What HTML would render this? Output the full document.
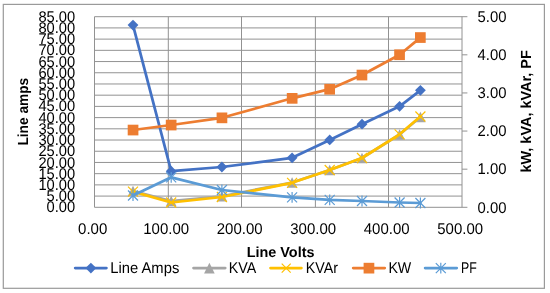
<!DOCTYPE html>
<html lang="en"><head><meta charset="utf-8"><title>Line Volts chart</title>
<style>html,body{margin:0;padding:0;background:#fff}body{width:550px;height:293px;overflow:hidden}svg{display:block;text-rendering:geometricPrecision}text{font-family:"Liberation Sans",sans-serif;fill:#000}</style></head><body>
<svg width="550" height="293" viewBox="0 0 550 293">
<rect width="550" height="293" fill="#fff"/>
<rect x="3.3" y="4.4" width="541.1" height="283.9" fill="none" stroke="#9a9a9a" stroke-width="1.2"/>
<path d="M94.5 16.70H462.0M94.5 27.91H462.0M94.5 39.12H462.0M94.5 50.34H462.0M94.5 61.55H462.0M94.5 72.76H462.0M94.5 83.97H462.0M94.5 95.18H462.0M94.5 106.39H462.0M94.5 117.61H462.0M94.5 128.82H462.0M94.5 140.03H462.0M94.5 151.24H462.0M94.5 162.45H462.0M94.5 173.66H462.0M94.5 184.88H462.0M94.5 196.09H462.0M94.5 207.30H462.0M94.50 16.7V207.3M168.30 16.7V207.3M241.50 16.7V207.3M315.40 16.7V207.3M388.50 16.7V207.3M462.00 16.7V207.3M462.0 16.70H467.4M462.0 54.82H467.4M462.0 92.94H467.4M462.0 131.06H467.4M462.0 169.18H467.4M462.0 207.30H467.4" stroke="#929292" stroke-width="1" fill="none"/>
<polyline points="133.0,25.1 171.2,171.2 221.9,167.0 292.1,157.8 329.7,139.9 362.0,124.2 399.6,106.3 420.4,90.3" fill="none" stroke="#4472C4" stroke-width="2.75" stroke-linejoin="round" stroke-linecap="round"/>
<path d="M133.0 19.7L138.4 25.1L133.0 30.5L127.6 25.1Z" fill="#4472C4"/>
<path d="M171.2 165.8L176.6 171.2L171.2 176.6L165.8 171.2Z" fill="#4472C4"/>
<path d="M221.9 161.6L227.3 167.0L221.9 172.4L216.5 167.0Z" fill="#4472C4"/>
<path d="M292.1 152.4L297.5 157.8L292.1 163.2L286.7 157.8Z" fill="#4472C4"/>
<path d="M329.7 134.5L335.1 139.9L329.7 145.3L324.3 139.9Z" fill="#4472C4"/>
<path d="M362.0 118.8L367.4 124.2L362.0 129.6L356.6 124.2Z" fill="#4472C4"/>
<path d="M399.6 100.9L405.0 106.3L399.6 111.7L394.2 106.3Z" fill="#4472C4"/>
<path d="M420.4 84.9L425.8 90.3L420.4 95.7L415.0 90.3Z" fill="#4472C4"/>
<polyline points="133.0,191.0 171.2,201.0 221.9,196.3 292.1,182.5 329.7,170.0 362.0,158.0 399.6,134.5 420.4,117.0" fill="none" stroke="#A5A5A5" stroke-width="2.75" stroke-linejoin="round" stroke-linecap="round"/>
<path d="M133.0 185.7L138.3 196.3L127.7 196.3Z" fill="#A5A5A5"/>
<path d="M171.2 195.7L176.5 206.3L165.9 206.3Z" fill="#A5A5A5"/>
<path d="M221.9 191.0L227.2 201.6L216.6 201.6Z" fill="#A5A5A5"/>
<path d="M292.1 177.2L297.4 187.8L286.8 187.8Z" fill="#A5A5A5"/>
<path d="M329.7 164.7L335.0 175.3L324.4 175.3Z" fill="#A5A5A5"/>
<path d="M362.0 152.7L367.3 163.3L356.7 163.3Z" fill="#A5A5A5"/>
<path d="M399.6 129.2L404.9 139.8L394.3 139.8Z" fill="#A5A5A5"/>
<path d="M420.4 111.7L425.7 122.3L415.1 122.3Z" fill="#A5A5A5"/>
<polyline points="133.0,191.6 171.2,202.5 221.9,197.0 292.1,182.8 329.7,170.0 362.0,158.0 399.6,134.3 420.4,116.5" fill="none" stroke="#FFC000" stroke-width="2.75" stroke-linejoin="round" stroke-linecap="round"/>
<path d="M128.0 186.6L138.0 196.6M128.0 196.6L138.0 186.6" stroke="#FFC000" stroke-width="1.2" fill="none"/>
<path d="M166.2 197.5L176.2 207.5M166.2 207.5L176.2 197.5" stroke="#FFC000" stroke-width="1.2" fill="none"/>
<path d="M216.9 192.0L226.9 202.0M216.9 202.0L226.9 192.0" stroke="#FFC000" stroke-width="1.2" fill="none"/>
<path d="M287.1 177.8L297.1 187.8M287.1 187.8L297.1 177.8" stroke="#FFC000" stroke-width="1.2" fill="none"/>
<path d="M324.7 165.0L334.7 175.0M324.7 175.0L334.7 165.0" stroke="#FFC000" stroke-width="1.2" fill="none"/>
<path d="M357.0 153.0L367.0 163.0M357.0 163.0L367.0 153.0" stroke="#FFC000" stroke-width="1.2" fill="none"/>
<path d="M394.6 129.3L404.6 139.3M394.6 139.3L404.6 129.3" stroke="#FFC000" stroke-width="1.2" fill="none"/>
<path d="M415.4 111.5L425.4 121.5M415.4 121.5L425.4 111.5" stroke="#FFC000" stroke-width="1.2" fill="none"/>
<polyline points="133.0,130.0 171.2,125.0 221.9,117.8 292.1,98.3 329.7,89.2 362.0,75.0 399.6,54.7 420.4,37.6" fill="none" stroke="#ED7D31" stroke-width="2.75" stroke-linejoin="round" stroke-linecap="round"/>
<rect x="127.7" y="124.7" width="10.7" height="10.7" fill="#ED7D31"/>
<rect x="165.8" y="119.7" width="10.7" height="10.7" fill="#ED7D31"/>
<rect x="216.6" y="112.5" width="10.7" height="10.7" fill="#ED7D31"/>
<rect x="286.8" y="93.0" width="10.7" height="10.7" fill="#ED7D31"/>
<rect x="324.3" y="83.9" width="10.7" height="10.7" fill="#ED7D31"/>
<rect x="356.6" y="69.7" width="10.7" height="10.7" fill="#ED7D31"/>
<rect x="394.2" y="49.4" width="10.7" height="10.7" fill="#ED7D31"/>
<rect x="415.0" y="32.2" width="10.7" height="10.7" fill="#ED7D31"/>
<polyline points="133.0,195.5 171.2,177.3 221.9,190.0 292.1,197.4 329.7,199.8 362.0,201.0 399.6,202.5 420.4,203.0" fill="none" stroke="#5B9BD5" stroke-width="2.75" stroke-linejoin="round" stroke-linecap="round"/>
<path d="M128.0 190.5L138.0 200.5M128.0 200.5L138.0 190.5M133.0 190.1L133.0 200.9" stroke="#5B9BD5" stroke-width="1.2" fill="none"/>
<path d="M166.2 172.3L176.2 182.3M166.2 182.3L176.2 172.3M171.2 171.9L171.2 182.7" stroke="#5B9BD5" stroke-width="1.2" fill="none"/>
<path d="M216.9 185.0L226.9 195.0M216.9 195.0L226.9 185.0M221.9 184.6L221.9 195.4" stroke="#5B9BD5" stroke-width="1.2" fill="none"/>
<path d="M287.1 192.4L297.1 202.4M287.1 202.4L297.1 192.4M292.1 192.0L292.1 202.8" stroke="#5B9BD5" stroke-width="1.2" fill="none"/>
<path d="M324.7 194.8L334.7 204.8M324.7 204.8L334.7 194.8M329.7 194.4L329.7 205.2" stroke="#5B9BD5" stroke-width="1.2" fill="none"/>
<path d="M357.0 196.0L367.0 206.0M357.0 206.0L367.0 196.0M362.0 195.6L362.0 206.4" stroke="#5B9BD5" stroke-width="1.2" fill="none"/>
<path d="M394.6 197.5L404.6 207.5M394.6 207.5L404.6 197.5M399.6 197.1L399.6 207.9" stroke="#5B9BD5" stroke-width="1.2" fill="none"/>
<path d="M415.4 198.0L425.4 208.0M415.4 208.0L425.4 198.0M420.4 197.6L420.4 208.4" stroke="#5B9BD5" stroke-width="1.2" fill="none"/>
<g font-size="15.5">
<text x="38.4" y="21.7" textLength="36.8" lengthAdjust="spacingAndGlyphs">85.00</text>
<text x="38.4" y="32.9" textLength="36.8" lengthAdjust="spacingAndGlyphs">80.00</text>
<text x="38.4" y="44.1" textLength="36.8" lengthAdjust="spacingAndGlyphs">75.00</text>
<text x="38.4" y="55.3" textLength="36.8" lengthAdjust="spacingAndGlyphs">70.00</text>
<text x="38.4" y="66.5" textLength="36.8" lengthAdjust="spacingAndGlyphs">65.00</text>
<text x="38.4" y="77.8" textLength="36.8" lengthAdjust="spacingAndGlyphs">60.00</text>
<text x="38.4" y="89.0" textLength="36.8" lengthAdjust="spacingAndGlyphs">55.00</text>
<text x="38.4" y="100.2" textLength="36.8" lengthAdjust="spacingAndGlyphs">50.00</text>
<text x="38.4" y="111.4" textLength="36.8" lengthAdjust="spacingAndGlyphs">45.00</text>
<text x="38.4" y="122.6" textLength="36.8" lengthAdjust="spacingAndGlyphs">40.00</text>
<text x="38.4" y="133.8" textLength="36.8" lengthAdjust="spacingAndGlyphs">35.00</text>
<text x="38.4" y="145.0" textLength="36.8" lengthAdjust="spacingAndGlyphs">30.00</text>
<text x="38.4" y="156.2" textLength="36.8" lengthAdjust="spacingAndGlyphs">25.00</text>
<text x="38.4" y="167.5" textLength="36.8" lengthAdjust="spacingAndGlyphs">20.00</text>
<text x="38.4" y="178.7" textLength="36.8" lengthAdjust="spacingAndGlyphs">15.00</text>
<text x="38.4" y="189.9" textLength="36.8" lengthAdjust="spacingAndGlyphs">10.00</text>
<text x="46.6" y="201.1" textLength="28.6" lengthAdjust="spacingAndGlyphs">5.00</text>
<text x="46.6" y="212.3" textLength="28.6" lengthAdjust="spacingAndGlyphs">0.00</text>
</g>
<g font-size="15.5" text-anchor="start">
<text x="477.6" y="21.9" textLength="28.9" lengthAdjust="spacingAndGlyphs">5.00</text>
<text x="477.6" y="60.0" textLength="28.9" lengthAdjust="spacingAndGlyphs">4.00</text>
<text x="477.6" y="98.1" textLength="28.9" lengthAdjust="spacingAndGlyphs">3.00</text>
<text x="477.6" y="136.3" textLength="28.9" lengthAdjust="spacingAndGlyphs">2.00</text>
<text x="477.6" y="174.4" textLength="28.9" lengthAdjust="spacingAndGlyphs">1.00</text>
<text x="477.6" y="212.5" textLength="28.9" lengthAdjust="spacingAndGlyphs">0.00</text>
</g>
<g font-size="15.5">
<text x="78.1" y="233.9" textLength="29.2" lengthAdjust="spacingAndGlyphs">0.00</text>
<text x="143.3" y="233.9" textLength="45.8" lengthAdjust="spacingAndGlyphs">100.00</text>
<text x="216.8" y="233.9" textLength="45.8" lengthAdjust="spacingAndGlyphs">200.00</text>
<text x="290.3" y="233.9" textLength="45.8" lengthAdjust="spacingAndGlyphs">300.00</text>
<text x="363.8" y="233.9" textLength="45.8" lengthAdjust="spacingAndGlyphs">400.00</text>
<text x="437.3" y="233.9" textLength="45.8" lengthAdjust="spacingAndGlyphs">500.00</text>
</g>
<text x="280.6" y="256.5" font-size="14.6" font-weight="bold" text-anchor="middle" textLength="67.8" lengthAdjust="spacingAndGlyphs">Line Volts</text>
<text transform="translate(28.2 111.7) rotate(-90)" font-size="14.6" font-weight="bold" text-anchor="middle" textLength="67.8" lengthAdjust="spacingAndGlyphs">Line amps</text>
<text transform="translate(531.3 111.4) rotate(-90)" font-size="14.6" font-weight="bold" text-anchor="middle" textLength="122.4" lengthAdjust="spacingAndGlyphs">kW, kVA, kVAr, PF</text>
<path d="M75.2 268.1H106.4" stroke="#4472C4" stroke-width="2.75" stroke-linecap="round" fill="none"/>
<path d="M90.9 262.7L96.3 268.1L90.9 273.5L85.5 268.1Z" fill="#4472C4"/>
<text x="110.3" y="273.3" font-size="15.5" textLength="69.0" lengthAdjust="spacingAndGlyphs">Line Amps</text>
<path d="M193.5 268.1H225.2" stroke="#A5A5A5" stroke-width="2.75" stroke-linecap="round" fill="none"/>
<path d="M209.4 262.8L214.7 273.4L204.1 273.4Z" fill="#A5A5A5"/>
<text x="228.7" y="273.3" font-size="15.5" textLength="27.5" lengthAdjust="spacingAndGlyphs">KVA</text>
<path d="M270.5 268.1H301.4" stroke="#FFC000" stroke-width="2.75" stroke-linecap="round" fill="none"/>
<path d="M281.7 263.6L290.7 272.6M281.7 272.6L290.7 263.6" stroke="#FFC000" stroke-width="1.2" fill="none"/>
<text x="305.8" y="273.3" font-size="15.5" textLength="32.2" lengthAdjust="spacingAndGlyphs">KVAr</text>
<path d="M353.2 268.1H384.7" stroke="#ED7D31" stroke-width="2.75" stroke-linecap="round" fill="none"/>
<rect x="363.6" y="262.8" width="10.7" height="10.7" fill="#ED7D31"/>
<text x="388.4" y="273.3" font-size="15.5" textLength="22.9" lengthAdjust="spacingAndGlyphs">KW</text>
<path d="M425.1 268.1H456.7" stroke="#5B9BD5" stroke-width="2.75" stroke-linecap="round" fill="none"/>
<path d="M435.8 263.1L445.8 273.1M435.8 273.1L445.8 263.1M440.8 262.7L440.8 273.5" stroke="#5B9BD5" stroke-width="1.2" fill="none"/>
<text x="461.0" y="273.3" font-size="15.5" textLength="15.8" lengthAdjust="spacingAndGlyphs">PF</text>
</svg></body></html>
